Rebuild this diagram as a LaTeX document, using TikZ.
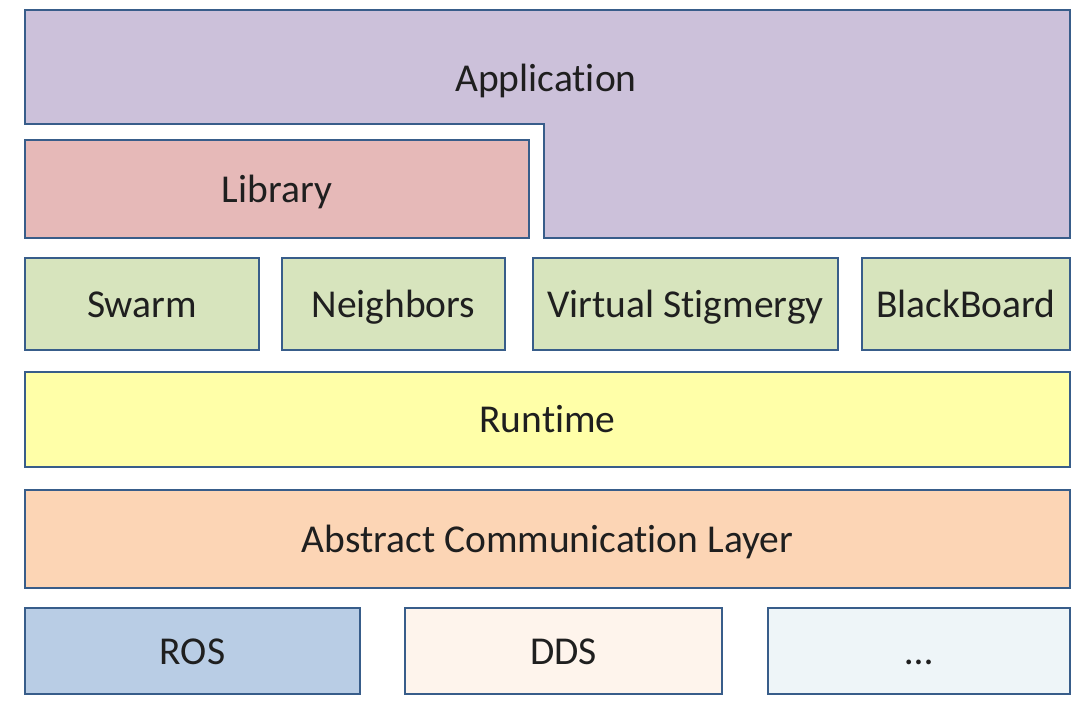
\documentclass[tikz,border=0pt]{standalone}
\usepackage{fontspec}
\setmainfont[Ligatures=NoCommon]{Carlito}

\definecolor{edge}{HTML}{385D8A}
\definecolor{appl}{HTML}{CCC1DA}
\definecolor{libr}{HTML}{E6B9B8}
\definecolor{mod}{HTML}{D7E4BD}
\definecolor{runt}{HTML}{FFFFA8}
\definecolor{comm}{HTML}{FCD5B5}
\definecolor{ros}{HTML}{B9CDE5}
\definecolor{dds}{HTML}{FEF4EC}
\definecolor{other}{HTML}{EEF5F8}

\begin{document}
\begin{tikzpicture}[x=1pt, y=-1pt,
    label/.style={font=\fontsize{39.5}{41}\selectfont, text=black!88,
        text height=26pt, text depth=0pt},
    layer/.style={label, draw=edge, line width=2pt, inner sep=0pt, outer sep=0pt}]
        \useasboundingbox (0,0) rectangle (1090,702);

        % application wraps round the library
        \filldraw[fill=appl, draw=edge, line width=2pt]
            (25,10) -- (1070,10) -- (1070,238) -- (544,238) -- (544,124) -- (25,124) -- cycle;
        \node[label] (app) at (546,78) {Application};

        \node[layer, fill=libr, minimum width=504, minimum height=98] (lib) at (277,189) {Library};

        \node[layer, fill=mod, minimum width=234, minimum height=92] (swarm) at (142,304) {Swarm};
        \node[layer, fill=mod, minimum width=223, minimum height=92] (neigh) at (393.5,304) {Neighbors};
        \node[layer, fill=mod, minimum width=305, minimum height=92] (stig) at (685.5,304) {Virtual Stigmergy};
        \node[layer, fill=mod, minimum width=208, minimum height=92] (board) at (966,304) {BlackBoard};

        \node[layer, fill=runt, minimum width=1045, minimum height=95] (run) at (547.5,419.5) {Runtime};
        \node[layer, fill=comm, minimum width=1045, minimum height=98] (acl) at (547.5,539) {Abstract Communication Layer};

        \node[layer, fill=ros, minimum width=335, minimum height=86] (ros) at (192.5,651) {ROS};
        \node[layer, fill=dds, minimum width=317, minimum height=86] (dds) at (563.5,651) {DDS};
        \node[layer, fill=other, minimum width=302, minimum height=86] (more) at (919,651) {…};
\end{tikzpicture}
\end{document}
